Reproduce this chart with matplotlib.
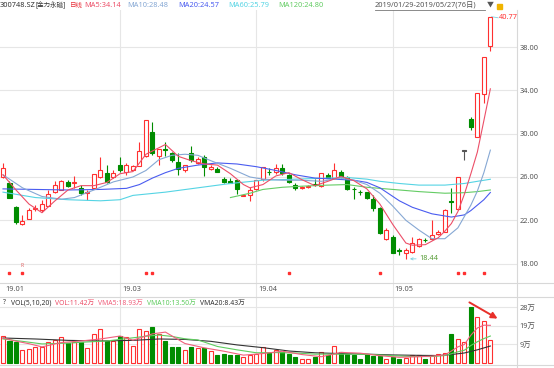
import numpy as np
import matplotlib.pyplot as plt
from matplotlib.patches import Rectangle

plt.rcParams['font.family'] = ['Noto Sans', 'Noto Sans CJK SC', 'DejaVu Sans']

# daily candles 2019/01/29 - 2019/05/27 (76 days)
opens = [26.0, 25.4, 23.2, 21.66, 22.15, 23.0, 22.95, 23.3, 24.6, 24.8,
         25.55, 25.45, 25.0, 24.55, 24.95, 26.0, 26.4, 26.0, 27.1, 26.5,
         26.65, 27.0, 27.9, 30.2, 27.9, 28.6, 28.2, 27.4, 26.6, 28.2,
         27.25, 27.8, 26.75, 26.75, 25.8, 25.6, 25.7, 24.2, 24.3, 24.85,
         25.8, 26.5, 26.5, 26.8, 26.2, 25.25, 25.0, 25.1, 25.35, 25.15,
         26.15, 25.95, 26.5, 26.0, 24.9, 24.65, 24.6, 24.0, 23.1, 20.24,
         20.5, 19.25, 19.0, 19.1, 19.6, 20.2, 20.27, 20.7, 20.95, 23.75,
         23.0, 28.4, 31.4, 29.72, 33.66, 38.09]
highs = [27.3, 25.6, 23.3, 22.5, 23.1, 23.4, 23.9, 24.8, 25.6, 25.7,
         25.7, 26.1, 25.25, 24.8, 26.3, 27.8, 27.1, 26.6, 27.8, 27.3,
         27.1, 29.2, 31.3, 31.1, 28.6, 29.2, 28.35, 28.2, 27.1, 28.85,
         27.8, 28.0, 27.1, 26.9, 26.0, 25.95, 25.75, 24.35, 25.05, 25.7,
         26.95, 26.8, 27.2, 27.2, 26.3, 25.4, 25.15, 25.3, 25.8, 26.4,
         26.4, 27.25, 26.6, 26.1, 25.05, 24.8, 24.65, 24.3, 23.2, 21.25,
         20.65, 19.4, 19.4, 20.5, 20.4, 20.4, 22.0, 21.1, 23.0, 24.95,
         26.0, 28.4, 31.5, 33.75, 37.05, 40.77]
lows = [25.9, 24.1, 21.7, 21.6, 22.1, 22.9, 22.8, 23.3, 24.5, 24.8,
        25.1, 25.0, 24.3, 23.9, 24.9, 25.9, 25.4, 25.9, 26.5, 26.2,
        26.6, 27.0, 27.8, 28.0, 27.1, 27.9, 27.4, 26.2, 26.5, 27.4,
        27.2, 26.1, 26.6, 26.45, 25.4, 25.4, 24.4, 24.2, 23.8, 24.8,
        25.6, 26.2, 26.3, 26.2, 25.4, 24.8, 24.9, 25.0, 25.15, 25.1,
        25.9, 25.9, 25.9, 24.8, 24.0, 24.3, 24.0, 22.9, 20.7, 20.2,
        18.95, 18.8, 18.44, 19.0, 19.55, 20.0, 20.2, 20.6, 20.9, 22.65,
        22.95, 27.57, 30.35, 29.7, 32.8, 37.66]
closes = [26.8, 24.1, 21.8, 21.96, 22.95, 23.1, 23.5, 24.4, 25.25, 25.6,
          25.2, 25.5, 24.5, 24.6, 26.3, 26.6, 25.55, 26.4, 26.6, 27.1,
          27.0, 28.4, 31.3, 28.2, 28.6, 28.45, 27.55, 26.7, 27.1, 27.55,
          27.7, 26.95, 26.95, 26.5, 25.5, 25.45, 24.85, 24.35, 24.8, 25.7,
          26.9, 26.45, 26.8, 26.4, 25.5, 24.95, 25.1, 25.2, 25.3, 26.35,
          25.95, 26.65, 26.0, 24.85, 24.85, 24.6, 24.1, 23.1, 20.8, 21.1,
          19.0, 19.15, 19.25, 19.87, 20.3, 20.15, 20.64, 20.95, 22.95, 23.7,
          25.97, 28.4, 30.65, 33.72, 37.05, 40.77]
vols = [13.7, 10.8, 10.3, 6.4, 7.0, 8.1, 8.1, 10.6, 11.5, 12.9,
        9.8, 10.3, 10.3, 7.5, 14.6, 17.1, 10.8, 11.2, 13.7, 12.8,
        8.6, 17.1, 16.2, 18.3, 14.5, 11.2, 8.1, 8.1, 6.4, 8.1,
        7.4, 7.4, 5.8, 4.0, 4.4, 4.0, 4.0, 2.7, 4.0, 4.4,
        8.1, 4.7, 6.4, 5.2, 4.4, 2.7, 1.9, 1.9, 3.1, 5.2,
        4.0, 8.6, 5.2, 4.4, 4.0, 1.9, 4.4, 3.6, 3.6, 1.9,
        2.7, 1.9, 2.5, 4.0, 4.0, 1.9, 4.1, 4.4, 5.0, 14.3,
        12.0, 10.3, 28.1, 23.3, 21.3, 11.42]

ma5_x = [0, 2, 4, 6, 8, 10, 12, 14, 16, 18, 20, 22, 23, 25, 27, 29, 31, 33, 35, 37, 38, 40,
         42, 44, 46, 48, 50, 52, 54, 56, 58, 60, 62, 63, 65, 67, 68, 69, 70, 71, 72, 73, 74, 75]
ma5_y = [26.2, 24.8, 23.5, 22.7, 23.8, 24.8, 25.2, 25.2, 25.5, 26.3, 26.5, 28.1, 28.4, 29.0,
         27.9, 27.5, 27.2, 27.1, 26.3, 25.3, 25.0, 25.3, 26.1, 26.4, 25.75, 25.2, 25.6, 26.05,
         25.66, 24.9, 23.5, 21.6, 19.9, 19.7, 19.75, 20.4, 21.0, 21.7, 22.8, 24.4, 26.3, 28.3,
         31.2, 34.14]
ma10_x = [0, 3, 6, 9, 11, 14, 17, 20, 22, 24, 26, 28, 30, 32, 35, 38, 40, 43, 46, 49, 52,
          54, 56, 58, 60, 62, 64, 66, 68, 70, 72, 73, 74, 75]
ma10_y = [26.2, 25.0, 24.2, 23.95, 24.1, 24.8, 25.55, 26.0, 26.6, 27.6, 28.0, 28.1, 28.0,
          27.5, 26.8, 26.0, 25.8, 25.7, 25.7, 25.6, 25.9, 25.7, 25.3, 24.5, 23.3, 22.0, 21.1,
          20.3, 20.3, 21.3, 23.4, 24.7, 26.4, 28.48]
ma20_x = [0, 5, 10, 15, 19, 21, 23, 25, 27, 30, 33, 36, 39, 42, 45, 48, 51, 54, 56, 58,
          60, 61, 63, 66, 69, 71, 72, 73, 74, 75]
ma20_y = [24.9, 24.85, 24.8, 24.85, 24.95, 25.3, 25.9, 26.4, 26.8, 27.1, 27.3, 27.2, 26.95,
          26.6, 26.2, 25.9, 25.8, 25.7, 25.5, 25.0, 24.2, 23.8, 23.2, 22.6, 22.3, 22.5, 22.9,
          23.4, 23.9, 24.57]
ma60_x = [0, 5, 10, 15, 18, 20, 25, 30, 35, 40, 45, 50, 53, 56, 58, 61, 64, 68, 71, 73, 75]
ma60_y = [24.6, 24.1, 23.9, 23.8, 23.9, 24.3, 24.6, 25.0, 25.4, 25.7, 25.8, 25.9, 25.95,
          25.8, 25.6, 25.4, 25.25, 25.25, 25.4, 25.6, 25.79]
ma120_x = [35, 38, 40, 43, 46, 50, 53, 56, 58, 61, 64, 68, 71, 73, 75]
ma120_y = [24.1, 24.5, 24.85, 25.05, 25.15, 25.25, 25.3, 25.05, 24.95, 24.8, 24.65, 24.5,
           24.55, 24.65, 24.8]

vma5_x = [0, 2, 4, 6, 9, 12, 15, 18, 20, 23, 25, 28, 31, 34, 37, 40, 43, 46, 49, 52, 55,
          58, 61, 64, 66, 68, 69, 70, 71, 72, 73, 74, 75]
vma5_y = [12.5, 10.9, 9.6, 8.0, 10.2, 11.0, 12.0, 13.5, 11.4, 14.6, 15.5, 9.7, 7.5, 5.8,
          3.8, 4.6, 5.8, 4.1, 3.0, 5.2, 4.8, 3.5, 2.7, 3.0, 3.3, 3.9, 5.9, 8.0, 9.2, 13.9,
          17.6, 19.0, 18.93]
vma10_x = [0, 3, 6, 10, 13, 16, 19, 22, 24, 26, 28, 30, 33, 36, 39, 42, 45, 48, 51, 54, 57,
           60, 63, 66, 68, 69, 70, 71, 72, 73, 74, 75]
vma10_y = [12.0, 10.8, 9.5, 9.9, 10.5, 11.0, 12.2, 13.4, 14.0, 13.3, 12.1, 11.5, 8.2, 6.5,
           5.0, 5.1, 4.9, 4.3, 4.3, 4.3, 4.1, 3.5, 3.1, 3.1, 3.6, 4.5, 5.5, 6.3, 8.7, 10.6,
           12.2, 13.5]
vma20_x = [0, 5, 10, 15, 20, 24, 28, 32, 36, 40, 44, 48, 52, 56, 60, 64, 67, 69, 71, 73, 75]
vma20_y = [12.5, 12.0, 11.3, 11.0, 11.3, 12.0, 11.8, 10.8, 9.0, 7.6, 5.9, 5.0, 4.6, 4.3,
           3.9, 3.7, 3.6, 4.1, 4.9, 6.5, 8.43]

dot_x = [1, 3, 22, 23, 44, 58, 70, 71, 74]
month_idx = [0, 18, 39, 60]
month_lab = ['19.01', '19.03', '19.04', '19.05']
price_ticks = [18, 22, 26, 30, 34, 38]
vol_ticks = [9.4, 18.8, 28.2]
vol_tick_lab = ['9万', '19万', '28万']

RED = '#ff3030'
GREEN = '#008c00'
GRID = '#e6e6e6'
W, H = 554, 368
FS = 5.3


def fx(px):
    return px / W


def fy(py):
    return 1 - py / H


fig = plt.figure(figsize=(5.54, 3.68), dpi=100)
fig.patch.set_facecolor('white')

xl = (-0.46, 79.1)
ax = fig.add_axes([0, fy(283), fx(517), 273 / H])
axd = fig.add_axes([0, fy(297), fx(517), 14 / H])
axv = fig.add_axes([0, fy(365), fx(517), 67 / H])
for a in (ax, axd, axv):
    a.set_xlim(*xl)
    for s in a.spines.values():
        s.set_visible(False)
    a.set_xticks([])
    for m in month_idx[1:]:
        a.axvline(m, color=GRID, lw=0.8, zorder=0)

# price panel
ax.set_ylim(16.21, 41.42)
for t in price_ticks:
    ax.axhline(t, color=GRID, lw=0.8, zorder=0)
ax.yaxis.tick_right()
ax.set_yticks(price_ticks)
ax.set_yticklabels(['%.2f' % t for t in price_ticks])
ax.tick_params(axis='y', length=0, pad=2, labelsize=FS, labelcolor='#555555')

x = np.arange(len(opens))
o, h, l, c = map(np.array, (opens, highs, lows, closes))
up = c > o
flat = np.isclose(c, o)
wick_col = np.where(flat, '#555555', np.where(up, RED, GREEN))
ax.vlines(x, l, h, colors=wick_col, lw=0.8, zorder=2)
bot = np.minimum(o, c)
hgt = np.maximum(np.abs(c - o), 0.05)
face = np.where(up, 'white', np.where(flat, '#555555', GREEN))
ax.bar(x, hgt, bottom=bot, width=0.62, color=face, edgecolor=wick_col, lw=0.8, zorder=3)

ax.plot(ma120_x, ma120_y, color='#64cc64', lw=0.8, zorder=4)
ax.plot(ma60_x, ma60_y, color='#55d4e4', lw=0.8, zorder=4)
ax.plot(ma20_x, ma20_y, color='#4a5cf0', lw=0.8, zorder=4)
ax.plot(ma10_x, ma10_y, color='#86a8d4', lw=0.8, zorder=4)
ax.plot(ma5_x, ma5_y, color='#ec4f68', lw=0.8, zorder=4)

ax.plot(dot_x, [17.13] * len(dot_x), 's', color=RED, ms=1.8, zorder=4)
ax.text(3, 17.6, 'R', color='#e06060', fontsize=3.5, ha='center', va='bottom')

# max / min marks
ax.plot([75.2, 76.2], [40.8, 40.7], color='#7fd0e0', lw=0.6)
ax.text(76.3, 40.7, '40.77', color=RED, fontsize=FS, va='center', ha='left')
ax.annotate('', xy=(62.2, 18.44), xytext=(64.0, 18.44),
            arrowprops=dict(arrowstyle='->', color='#7fd0e0', lw=0.6, mutation_scale=4))
ax.text(64.1, 18.44, '18.44', color='#5a9e3a', fontsize=FS, va='center', ha='left')

# date band
axd.set_ylim(0, 1)
axd.set_yticks([])
for m, s in zip(month_idx, month_lab):
    axd.text(m + 0.3, 0.55, s, fontsize=FS, color='#555555', va='center', ha='left')

# volume panel
axv.set_ylim(-1.2, 32.8)
for t in vol_ticks:
    axv.axhline(t, color=GRID, lw=0.8, zorder=0)
axv.yaxis.tick_right()
axv.set_yticks(vol_ticks)
axv.set_yticklabels(vol_tick_lab)
axv.tick_params(axis='y', length=0, pad=2, labelsize=FS, labelcolor='#555555')
vup = c >= o
axv.bar(x, vols, width=0.62, color=np.where(vup, 'white', GREEN),
        edgecolor=np.where(vup, RED, GREEN), lw=0.8, zorder=2)
axv.plot(vma20_x, vma20_y, color='#333333', lw=0.8, zorder=3)
axv.plot(vma10_x, vma10_y, color='#5fcc5f', lw=0.8, zorder=3)
axv.plot(vma5_x, vma5_y, color='#f0607c', lw=0.8, zorder=3)
axv.annotate('', xy=(500, H - 320), xytext=(467, H - 301), xycoords='figure pixels',
             textcoords='figure pixels',
             arrowprops=dict(arrowstyle='-|>', color='#e8302a', lw=1.4, mutation_scale=9))

# frame lines
for yy in (283, 297, 365):
    fig.add_artist(plt.Line2D([0, 1], [fy(yy), fy(yy)], color='#d8d8d8', lw=0.8))
fig.add_artist(plt.Line2D([fx(517), fx(517)], [0, fy(10)], color='#d8d8d8', lw=0.8))

# header
hy = fy(5.5)
parts = [(0, '300748.SZ', '#333333', FS), (35, '[金力永磁]', '#333333', 4.7),
         (70, '日线', '#e8303a', 4.7), (84, 'MA5:34.14', '#ec4f68', FS),
         (127, 'MA10:28.48', '#86a8d4', FS), (178, 'MA20:24.57', '#4a5cf0', FS),
         (228, 'MA60:25.79', '#55d4e4', FS), (278, 'MA120:24.80', '#64cc64', FS)]
for px, s, col, fs in parts:
    fig.text(fx(px), hy, s, color=col, fontsize=fs, va='center', ha='left')
fig.text(fx(375), hy, '2019/01/29-2019/05/27(76日)', color='#555555', fontsize=FS,
         va='center', ha='left')
fig.add_artist(plt.Line2D([fx(375), fx(485)], [fy(10), fy(10)], color='#777777', lw=0.6))
fig.text(fx(487), hy, '▼', color='#555555', fontsize=5, va='center', ha='left')
fig.add_artist(Rectangle((fx(497), fy(9)), fx(5), 5 / H, color='#f0b400'))

# volume legend
vy = fy(303)
vparts = [(3, '?', '#333333'), (11, 'VOL(5,10,20)', '#333333'), (55, 'VOL:11.42万', '#ec4f68'),
          (98, 'VMA5:18.93万', '#f0607c'), (147, 'VMA10:13.50万', '#5fcc5f'),
          (200, 'VMA20:8.43万', '#333333')]
for px, s, col in vparts:
    fig.text(fx(px), vy, s, color=col, fontsize=4.9, va='center', ha='left')

fig.savefig('out.png', dpi=100, facecolor='white')
